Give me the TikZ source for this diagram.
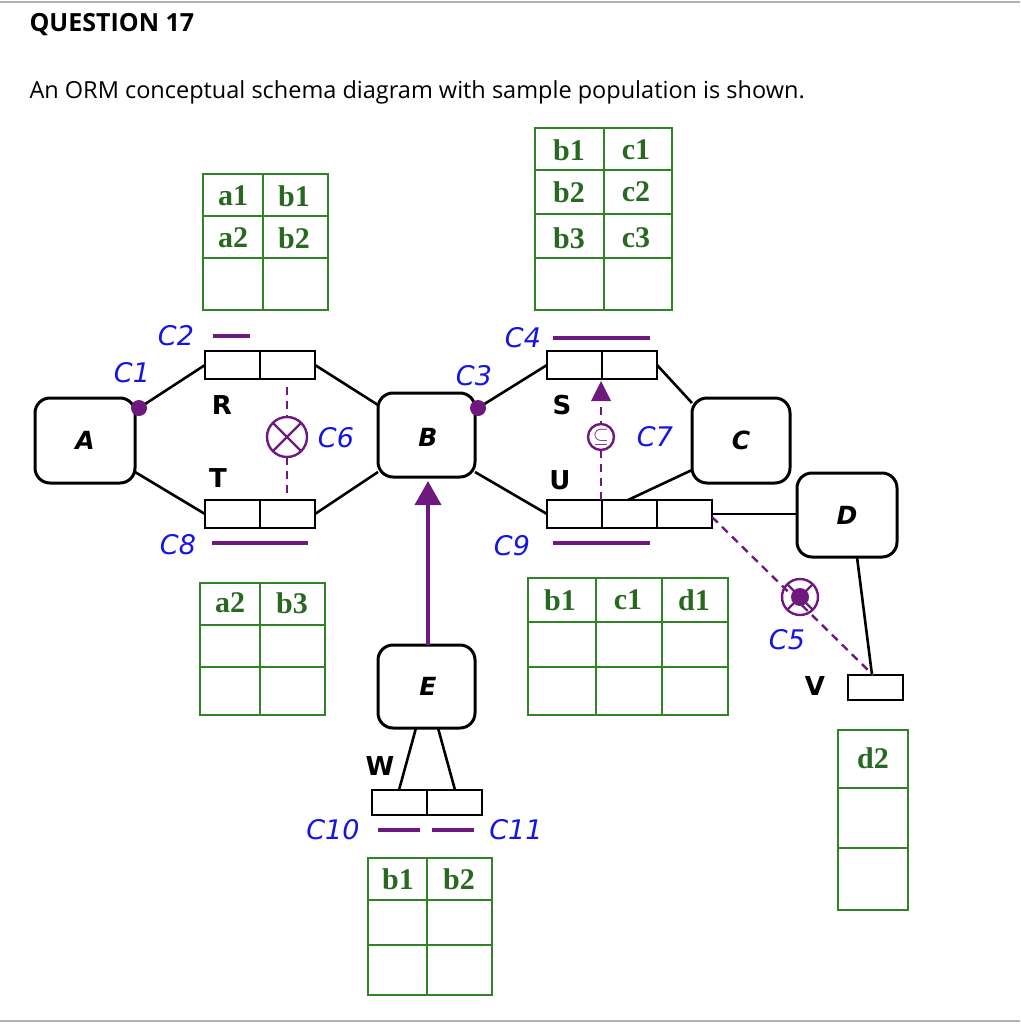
\documentclass[tikz,border=0pt]{standalone}
\usepackage{fontspec}
\setmainfont{Open Sans}
\newfontfamily\tabf{Liberation Serif}
\newfontfamily\lblf{DejaVu Sans}
\usetikzlibrary{arrows.meta}
\definecolor{grn}{RGB}{50,130,40}
\definecolor{pur}{RGB}{110,25,125}
\definecolor{cblue}{RGB}{20,20,230}
\begin{document}
\begin{tikzpicture}[x=1pt,y=-1pt,
 ent/.style={draw,line width=3pt,rounded corners=15pt},
 role/.style={draw,line width=2.6pt},
 con/.style={line width=2.6pt},
 cl/.style={text=cblue,font=\lblf\itshape\fontsize{27}{27}\selectfont},
 rl/.style={font=\lblf\bfseries\fontsize{26}{26}\selectfont},
 el/.style={font=\lblf\bfseries\itshape\fontsize{25}{25}\selectfont},
 pl/.style={pur,line width=3.2pt},
 pd/.style={pur,line width=2.4pt,dash pattern=on 8pt off 6pt},
 tb/.style={grn,line width=2.4pt},
 tt/.style={text=grn!80!black,font=\tabf\bfseries\fontsize{30}{30}\selectfont}]
\useasboundingbox (0,0) rectangle (1020,1024);
\draw[gray!60,line width=1.5pt] (0,2)--(1020,2);
\draw[gray!60,line width=2pt] (0,1021)--(1020,1021);
\node[anchor=west,font=\bfseries\fontsize{25}{25}\selectfont] (q) at (26,25) {QUESTION 17};
\node[anchor=west,font=\fontsize{23.5}{23.5}\selectfont] (d) at (26,92) {An ORM conceptual schema diagram with sample population is shown.};
% entities
\draw[ent] (35,398) rectangle (135,483); \node[el] (A) at (85,440) {A};
\draw[ent] (378,393) rectangle (475,477); \node[el] (B) at (428,437) {B};
\draw[ent] (692,398) rectangle (790,483); \node[el] (C) at (741,440) {C};
\draw[ent] (797,473) rectangle (897,557); \node[el] (D) at (847,515) {D};
\draw[ent] (378,645) rectangle (475,728); \node[el] (E) at (428,686) {E};
% roles
\draw[role] (205,351) rectangle (315,379) (260,351)--(260,379);
\draw[role] (205,500) rectangle (315,528) (260,500)--(260,528);
\draw[role] (547,351) rectangle (657,379) (602,351)--(602,379);
\draw[role] (547,500) rectangle (712,528) (602,500)--(602,528) (657,500)--(657,528);
\draw[role] (848,675) rectangle (903,700);
\draw[role] (372,790) rectangle (482,815) (427,790)--(427,815);
\node[rl] (R) at (222,405) {R}; \node[rl] (T) at (218,478) {T};
\node[rl] (S) at (562,405) {S}; \node[rl] (U) at (560,480) {U};
\node[rl] (V) at (815,686) {V}; \node[rl] (W) at (380,766) {W};
% connectors
\coordinate (c1) at (139,408); \coordinate (c3) at (478,408);
\draw[con] (c1)--(205,365); \draw[con] (135,472)--(205,514);
\draw[con] (315,365)--(378,405); \draw[con] (315,514)--(378,472);
\draw[con] (c3)--(547,365); \draw[con] (475,472)--(547,514);
\draw[con] (657,365)--(692,403); \draw[con] (692,470)--(628,500);
\draw[con] (712,514)--(797,514); \draw[con] (857,557)--(872,675);
\draw[con] (416,728)--(399,790); \draw[con] (438,728)--(455,790);
\fill[pur] (c1) circle (8); \fill[pur] (c3) circle (8);
% constraint lines
\draw[pl] (213,336)--(250,336); \draw[pl] (212,543)--(308,543);
\draw[pl] (553,338)--(650,338); \draw[pl] (553,543)--(650,543);
\draw[pl] (378,830)--(420,830); \draw[pl] (432,830)--(474,830);
\node[cl] (k1) at (132,373) {C1}; \node[cl] (k2) at (176,336) {C2};
\node[cl] (k3) at (474,376) {C3}; \node[cl] (k4) at (523,338) {C4};
\node[cl] (k6) at (336,438) {C6}; \node[cl] (k7) at (655,437) {C7};
\node[cl] (k8) at (178,545) {C8}; \node[cl] (k9) at (512,546) {C9};
\node[cl] (k5) at (787,640) {C5};
\node[cl] (k10) at (333,830) {C10}; \node[cl] (k11) at (516,830) {C11};
% C6
\draw[pd] (287,387)--(287,417); \draw[pd] (287,457)--(287,495);
\draw[pur,line width=2.4pt] (287,437) circle (20);
\draw[pur,line width=2.4pt] (273,423)--(301,451) (301,423)--(273,451);
% C7
\draw[pd] (601,407)--(601,424); \draw[pd] (601,450)--(601,500);
\draw[pur,line width=2.4pt] (601,437) circle (13);
\node[text=pur,font=\lblf\fontsize{20}{20}\selectfont] (sub) at (601,437) {$\subseteq$};
\fill[pur] (601,381)--(591,401)--(611,401)--cycle;
% C5
\draw[pd] (712,517)--(873,675);
\draw[pur,line width=2.4pt] (800,597) circle (18); \fill[pur] (800,597) circle (9);
\draw[pur,line width=2.4pt] (787,584)--(813,610) (813,584)--(787,610);
% subtype arrow
\draw[pur,line width=3.8pt,-{Triangle[width=26pt,length=24pt]}] (428,645)--(428,481);
% tables
\draw[tb] (203,174) rectangle (328,310) (263,174)--(263,310) (203,216)--(328,216) (203,258)--(328,258);
\node[tt] at (233,196) {a1}; \node[tt] at (294,196) {b1};
\node[tt] at (233,238) {a2}; \node[tt] at (294,238) {b2};
\draw[tb] (535,128) rectangle (672,310) (604,128)--(604,310) (535,170)--(672,170) (535,214)--(672,214) (535,258)--(672,258);
\node[tt] at (569,150) {b1}; \node[tt] at (636,150) {c1};
\node[tt] at (569,192) {b2}; \node[tt] at (636,192) {c2};
\node[tt] at (569,238) {b3}; \node[tt] at (636,238) {c3};
\draw[tb] (200,583) rectangle (325,715) (260,583)--(260,715) (200,625)--(325,625) (200,667)--(325,667);
\node[tt] at (230,603) {a2}; \node[tt] at (292,603) {b3};
\draw[tb] (528,578) rectangle (728,715) (596,578)--(596,715) (662,578)--(662,715) (528,622)--(728,622) (528,667)--(728,667);
\node[tt] at (560,600) {b1}; \node[tt] at (628,600) {c1}; \node[tt] at (694,600) {d1};
\draw[tb] (368,858) rectangle (492,995) (427,858)--(427,995) (368,900)--(492,900) (368,945)--(492,945);
\node[tt] at (398,879) {b1}; \node[tt] at (459,879) {b2};
\draw[tb] (838,730) rectangle (908,910) (838,788)--(908,788) (838,848)--(908,848);
\node[tt] at (873,758) {d2};
\end{tikzpicture}
\end{document}
